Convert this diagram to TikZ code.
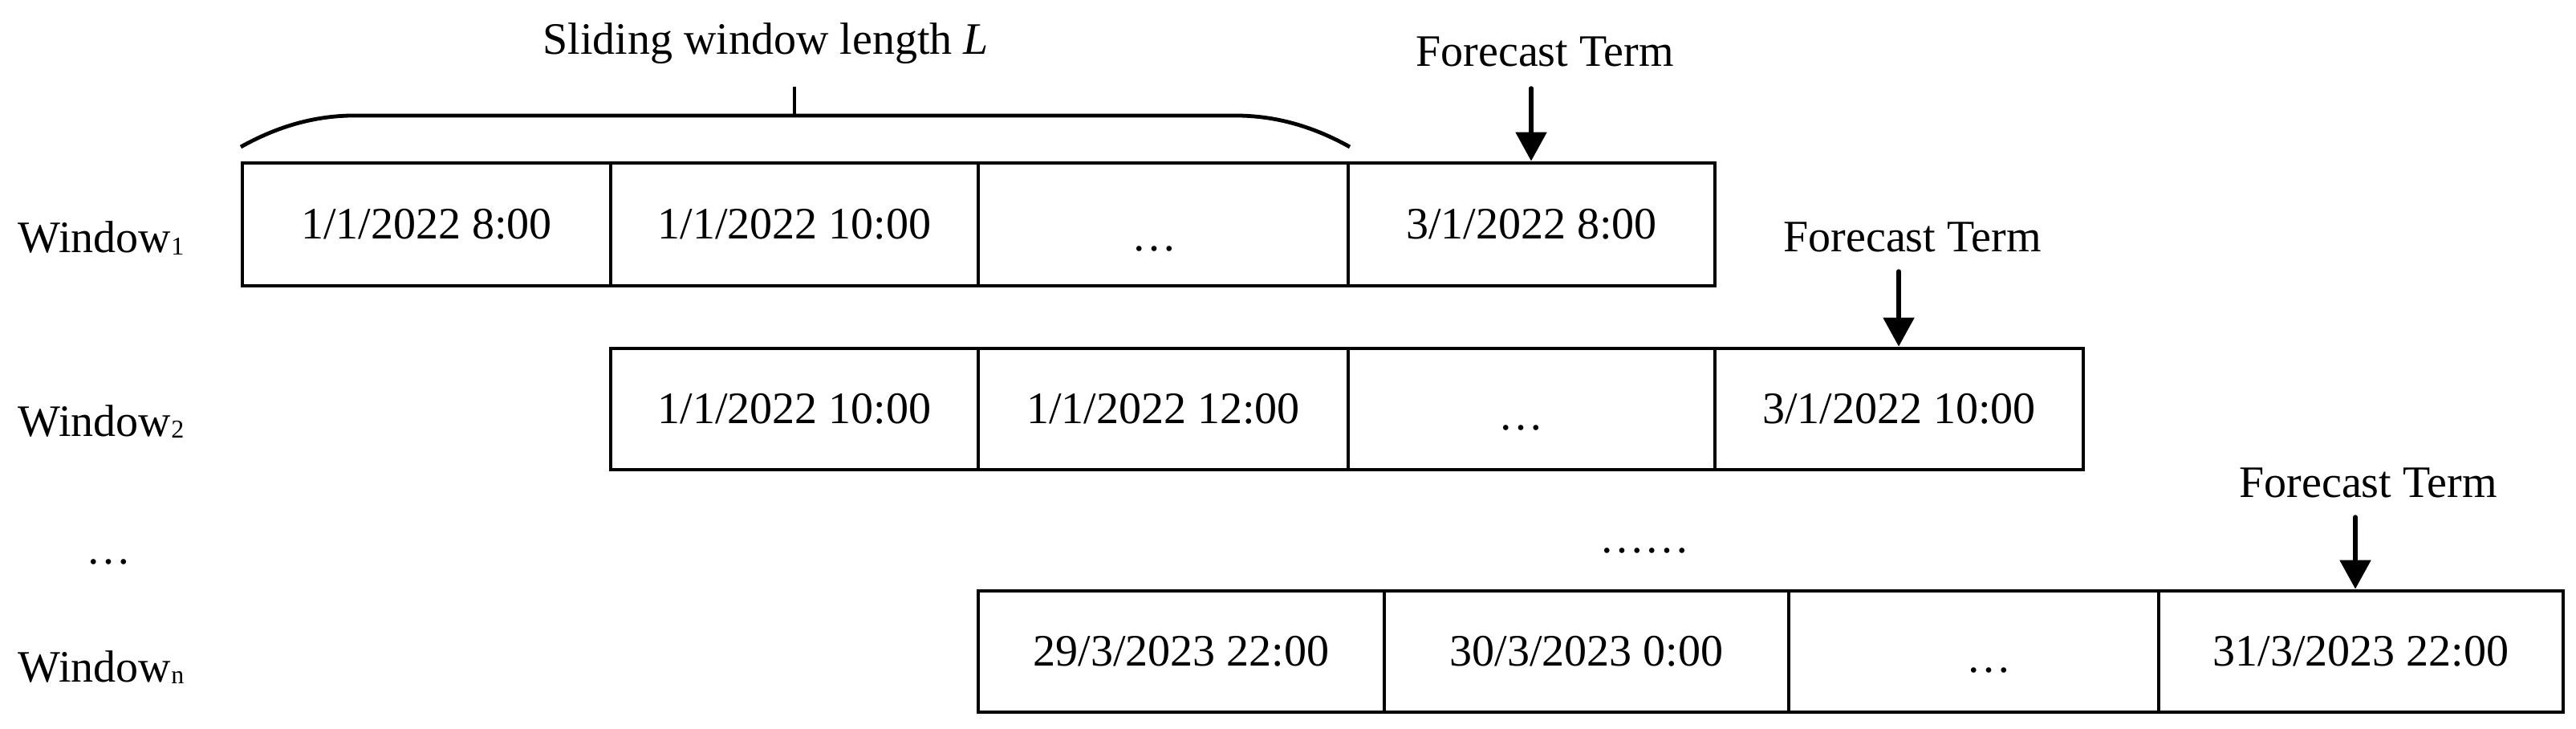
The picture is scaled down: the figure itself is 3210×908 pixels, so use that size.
\documentclass[tikz,border=0pt]{standalone}
\usepackage{fontspec}
\setmainfont{Liberation Serif}
\usetikzlibrary{arrows.meta}
\newcommand\cellnode[6]{\node[cellst, minimum width={(#3-#2)*0.25pt}, minimum height={(#5-#4)*0.25pt}] (#1) at ({(#2+#3)/2},{(#4+#5)/2}) {#6};}
\newcommand\subtxt[1]{\raisebox{-0.6pt}{\fontsize{8pt}{9pt}\selectfont #1}}
\begin{document}
\begin{tikzpicture}[x=0.25pt,y=-0.25pt,
  font=\fontsize{14pt}{16pt}\selectfont,
  cellst/.style={draw, line width=1.2pt, inner sep=0pt, anchor=center},
  lbl/.style={inner sep=0pt, anchor=base},
  wlbl/.style={inner sep=0pt, anchor=base west},
  fcarrow/.style={line width=1.35pt, line cap=round, -{Triangle[length=9pt,width=9.5pt]}},
  bracest/.style={line width=1.2pt},
  stemst/.style={line width=0.85pt}]
\useasboundingbox (0,0) rectangle (3210,908);
% row 1
\cellnode{c11}{302}{761}{203}{356}{1/1/2022 8:00}
\cellnode{c12}{761}{1219}{203}{356}{1/1/2022 10:00}
\cellnode{c13}{1219}{1680}{203}{356}{}
\cellnode{c14}{1680}{2137}{203}{356}{3/1/2022 8:00}
% row 2
\cellnode{c21}{761}{1219}{434}{585}{1/1/2022 10:00}
\cellnode{c22}{1219}{1680}{434}{585}{1/1/2022 12:00}
\cellnode{c23}{1680}{2137}{434}{585}{}
\cellnode{c24}{2137}{2596}{434}{585}{3/1/2022 10:00}
% row n
\cellnode{c31}{1219}{1725}{736}{887}{29/3/2023 22:00}
\cellnode{c32}{1725}{2229}{736}{887}{30/3/2023 0:00}
\cellnode{c33}{2229}{2690}{736}{887}{}
\cellnode{c34}{2690}{3194}{736}{887}{31/3/2023 22:00}
% ellipses
\node[lbl] (e1) at (1438,313) {\ldots};
\node[lbl] (e2) at (1895,536) {\ldots};
\node[lbl] (e3) at (2478,837) {\ldots};
\node[lbl] (eleft) at (135,702) {\ldots};
\node[lbl] (emid) at (2049,688) {\ldots\ldots};
% window labels
\node[wlbl] (w1) at (22,315) {Window\subtxt{1}};
\node[wlbl] (w2) at (22,543) {Window\subtxt{2}};
\node[wlbl] (wn) at (22,849) {Window\subtxt{n}};
% sliding window brace
\node[lbl] (slw) at (954,68) {Sliding window length \textit{L}};
\coordinate (bl) at (300,183);
\coordinate (br) at (1682,183);
\coordinate (bs) at (990,108);
\coordinate (bm) at (990,144);
\draw[bracest] (bl) .. controls (334,164) and (380,145) .. (437,144) -- (1544,144) .. controls (1602,145) and (1648,164) .. (br);
\draw[stemst] (bs) -- (bm);
% forecast terms
\node[lbl] (f1) at (1925,83) {Forecast Term};
\node[lbl] (f2) at (2383,314) {Forecast Term};
\node[lbl] (f3) at (2951,619) {Forecast Term};
\coordinate (a1) at (1908,110);
\coordinate (a2) at (2366,338);
\coordinate (a3) at (2935,644);
\draw[fcarrow] (a1) -- (a1 |- c14.north);
\draw[fcarrow] (a2) -- (a2 |- c24.north);
\draw[fcarrow] (a3) -- (a3 |- c34.north);
\end{tikzpicture}
\end{document}
